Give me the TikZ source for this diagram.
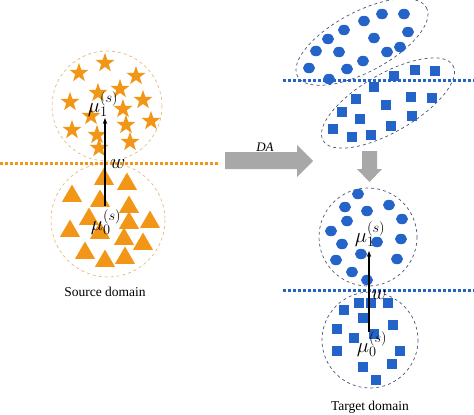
\documentclass[tikz,border=0pt]{standalone}
\usepackage{fontspec}
\setmainfont{Liberation Serif}
\usetikzlibrary{shapes.geometric,arrows.meta}
\definecolor{org}{RGB}{242,150,24}
\definecolor{orgline}{RGB}{222,178,110}
\definecolor{blu}{RGB}{36,100,200}
\definecolor{bluline}{RGB}{70,85,120}
\definecolor{gry}{RGB}{168,168,168}
\begin{document}
\begin{tikzpicture}[x=1pt,y=-1pt,
  starmark/.style={star,star points=5,star point ratio=2.5,fill=org,inner sep=0pt,minimum size=20pt},
  trimark/.style={regular polygon,regular polygon sides=3,fill=org,inner sep=0pt,minimum size=23pt},
  dotmark/.style={ellipse,fill=blu,inner sep=0pt,minimum width=12pt,minimum height=10.5pt},
  sqmark/.style={rectangle,fill=blu,inner sep=0pt,minimum size=10pt},
  srcring/.style={draw=orgline,dashed,line width=0.6pt},
  tgtring/.style={draw=bluline,dashed,line width=0.7pt},
  orgsep/.style={draw=org,line width=3pt,dash pattern=on 3pt off 2pt},
  blusep/.style={draw=blu,line width=3pt,dash pattern=on 3pt off 2pt},
  wvec/.style={draw=black,line width=1.2pt,-{Stealth[length=6pt,width=4.5pt]}},
  mathlbl/.style={inner sep=0pt,font=\fontsize{22}{22}\selectfont},
  caption/.style={inner sep=0pt,font=\fontsize{13.5}{15}\selectfont}]
\useasboundingbox (0,0) rectangle (474,415);
% ---------- source domain ----------
\draw[srcring] (107,106) circle (55);
\draw[srcring] (108,220) circle (57);
\foreach \x/\y [count=\i] in {105/63,79/73,136/76,120/89,98/93,70/102,143/100,123/109,91/116,151/121,126/125,72/130,97/135,130/142,99/148}
  \node[starmark] (st\i) at (\x,\y) {};
\foreach \x/\y [count=\i] in {104/179,127/184,72/196,100/201,129/207,89/219,150/222,129/223,70/231,100/233,124/239,143/244,85/253,125/258,105/261}
  \node[trimark] (tr\i) at (\x,\y) {};
\coordinate (ol) at (0,163);
\coordinate (or) at (220,163);
\draw[orgsep] (ol) -- (or);
\coordinate (s0) at (105,206);
\coordinate (s1) at (105,118);
\draw[wvec] (s0) -- (s1);
\node[mathlbl] (smu1) at (103,104) {$\mu_1^{(s)}$};
\node[mathlbl] (smu0) at (106,222) {$\mu_0^{(s)}$};
\node[mathlbl] (sw) at (118,164) {$w$};
\node[caption] (scap) at (105,292) {Source domain};
% ---------- DA arrow ----------
\fill[gry] (225,152) -- (297,152) -- (297,145) -- (313,161) -- (297,177) -- (297,169) -- (225,169) -- cycle;
\node[inner sep=0pt,font=\fontsize{13}{13}\selectfont\itshape] (da) at (265,147) {DA};
% ---------- target, before alignment ----------
\draw[tgtring,rotate around={28:(362,42)}] (362,42) ellipse (73 and 30);
\draw[tgtring,rotate around={30:(388,103)}] (388,103) ellipse (75 and 29);
\foreach \x/\y [count=\i] in {382/14,404/14,364/21,344/30,408/32,328/39,374/38,316/51,339/52,387/52,400/47,363/61,309/68,347/69,329/79}
  \node[dotmark] (pa\i) at (\x,\y) {};
\foreach \x/\y [count=\i] in {415/70,435/71,394/76,374/87,356/99,411/97,432/98,386/105,342/112,360/119,412/116,391/126,333/129,352/137,371/135}
  \node[sqmark] (qa\i) at (\x,\y) {};
\coordinate (bl1) at (283,80);
\coordinate (br1) at (474,80);
\draw[blusep] (bl1) -- (br1);
% ---------- down arrow ----------
\fill[gry] (362,151) -- (377,151) -- (377,169) -- (382,169) -- (369.5,182) -- (357,169) -- (362,169) -- cycle;
% ---------- target domain, aligned ----------
\draw[tgtring] (368,237) circle (49);
\draw[tgtring] (370,340) circle (48);
\foreach \x/\y [count=\i] in {358/194,345/207,367/211,389/205,347/221,402/219,331/231,342/244,377/242,401/239,361/254,336/260,397/259,352/272,367/280}
  \node[dotmark] (pb\i) at (\x,\y) {};
\foreach \x/\y [count=\i] in {359/303,371/303,388/303,344/310,363/318,393/325,337/329,354/338,374/334,337/351,400/351,363/367,392/364,376/380}
  \node[sqmark] (qb\i) at (\x,\y) {};
\coordinate (bl2) at (283,290);
\coordinate (br2) at (474,290);
\draw[blusep] (bl2) -- (br2);
\coordinate (t0) at (369,332);
\coordinate (t1) at (369,251);
\draw[wvec] (t0) -- (t1);
\node[mathlbl] (tmu1) at (370,234) {$\mu_1^{(s)}$};
\node[mathlbl] (tmu0) at (372,344) {$\mu_0^{(s)}$};
\node[mathlbl] (tw) at (379,295) {$w$};
\node[caption] (tcap) at (370,407) {Target domain};
\end{tikzpicture}
\end{document}
